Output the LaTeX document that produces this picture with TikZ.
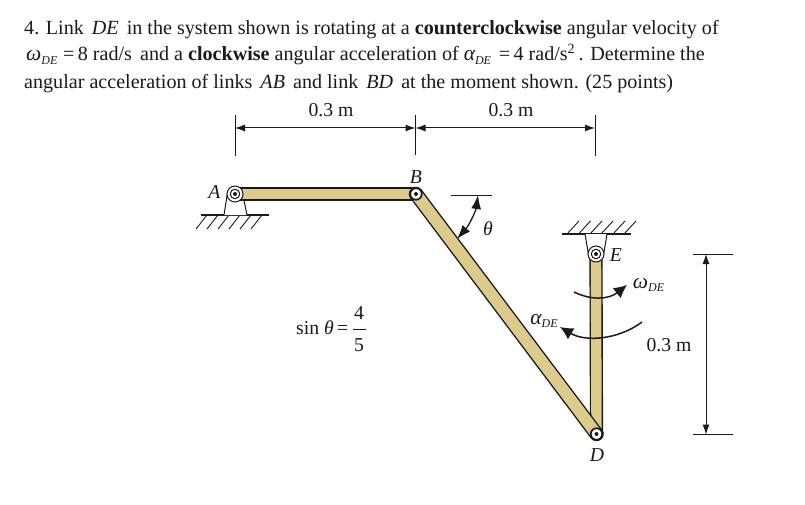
\documentclass[tikz,border=0pt]{standalone}
\usepackage{fontspec}
\setmainfont{Liberation Serif}
\usetikzlibrary{arrows.meta}
\definecolor{linkfill}{HTML}{DCCB8A}
\definecolor{ink}{HTML}{1A1A1A}
\tikzset{
  txt/.style={anchor=base west,inner sep=0pt,font=\fontsize{20.1}{22}\selectfont,text=ink},
  lbl/.style={inner sep=0pt,font=\fontsize{19.7}{22}\selectfont,text=ink},
  ital/.style={lbl,font=\fontsize{19.7}{22}\selectfont\itshape},
  link/.style={line width=13.2pt,draw=ink,line cap=round},
  linkin/.style={line width=10.4pt,draw=linkfill,line cap=round},
  pinbig/.style={circle,draw=ink,fill=white,line width=1pt,minimum size=16pt,inner sep=0pt},
  pinouter/.style={circle,draw=ink,fill=white,line width=1pt,minimum size=9.5pt,inner sep=0pt},
  pinsmall/.style={circle,draw=ink,fill=white,line width=1.7pt,minimum size=11.5pt,inner sep=0pt},
  dim/.style={draw=ink,line width=1pt},
  dimarrow/.style={draw=ink,line width=1pt,{Latex[length=10pt,width=7pt]}-{Latex[length=10pt,width=7pt]}},
  motion/.style={draw=ink,line width=1.5pt,-{Latex[length=13pt,width=13pt]}},
  ground/.style={draw=ink,line width=1.3pt},
  hatch/.style={draw=ink,line width=.9pt},
  bracket/.style={draw=ink,line width=1pt,fill=white}
}
\newcommand{\sub}[1]{\raisebox{-3.5pt}{\fontsize{12}{13}\selectfont\itshape #1}}
\newcommand{\gr}[1]{{\fontsize{21.5}{22}\selectfont\itshape #1}}
\begin{document}
\begin{tikzpicture}[x=1pt,y=-1pt]
\useasboundingbox (0,0) rectangle (805,505);
\fill[white] (0,0) rectangle (805,505);
% text
\node[txt] (l1) at (24,35) {4. Link\hspace{.4em}\textit{DE}\hspace{.4em}in the system shown is rotating at a \textbf{counterclockwise} angular velocity of};
\node[txt] (l2) at (26,61) {\gr{ω}\sub{DE}\hspace{2.5pt}\,=\,8 rad/s\hspace{.4em}and a \textbf{clockwise} angular acceleration of \gr{α}\sub{DE}\hspace{4.5pt}\,=\,4 rad/s\textsuperscript{2}\,. Determine the};
\node[txt] (l3) at (24,89) {angular acceleration of links\hspace{.4em}\textit{AB}\hspace{.4em}and link\hspace{.4em}\textit{BD}\hspace{.4em}at the moment shown. (25 points)};
\node[lbl] (d1) at (331,110.5) {0.3 m};
\node[lbl] (d2) at (511,110.5) {0.3 m};
\node[lbl] (d3) at (669,345) {0.3 m};
% coordinates
\coordinate (A) at (235,194);
\coordinate (B) at (416,194);
\coordinate (D) at (596.5,434);
\coordinate (E) at (596,254);
% top dimension
\coordinate (t1a) at (235,115); \coordinate (t1b) at (235,156);
\coordinate (t2a) at (415.5,115); \coordinate (t2b) at (415.5,155);
\coordinate (t3a) at (595,115); \coordinate (t3b) at (595,156);
\draw[dim] (t1a)--(t1b); \draw[dim] (t2a)--(t2b); \draw[dim] (t3a)--(t3b);
\coordinate (m1) at (235,128); \coordinate (m2) at (415.5,128); \coordinate (m3) at (595,128);
\draw[dimarrow] (m1)--(m2);
\draw[dimarrow] (m2)--(m3);
% right dimension
\coordinate (r1a) at (693,254); \coordinate (r1b) at (733,254);
\coordinate (r2a) at (693,434.5); \coordinate (r2b) at (733,434.5);
\coordinate (r1) at (706,254); \coordinate (r2) at (706,434.5);
\draw[dim] (r1a)--(r1b); \draw[dim] (r2a)--(r2b);
\draw[dimarrow] (r1)--(r2);
% grounds
\coordinate (ga1) at (201,215); \coordinate (ga2) at (269,215);
\draw[ground] (ga1)--(ga2);
\foreach \x in {207,218,229,240,251,262}
  \draw[hatch] (\x,215)--(\x-11,229);
\coordinate (ge1) at (562,234); \coordinate (ge2) at (631,234);
\draw[ground] (ge1)--(ge2);
\foreach \x in {567,578.5,590,601,613,624}
  \draw[hatch] (\x,234)--(\x+12,221);
% supports
\draw[bracket] (224,215)--(227.5,193)--(242.5,193)--(247,215);
\draw[bracket] (585,234)--(588.5,255)--(603.5,255)--(607,234);
% links
\draw[link] (A)--(B);
\draw[linkin] (A)--(B);
\draw[link] (E)--(D);
\draw[linkin] (E)--(D);
\draw[link,line width=14.4pt] (B)--(D);
\draw[linkin,line width=11.6pt] (B)--(D);
% pins
\node[pinbig] (pA) at (A) {};
\node[pinouter] (pAi) at (A) {}; \fill[ink] (A) circle (2pt);
\node[pinbig] (pE) at (E) {};
\node[pinouter] (pEi) at (E) {}; \fill[ink] (E) circle (2pt);
\node[pinsmall] (pB) at (B) {}; \fill[ink] (B) circle (2pt);
\node[pinsmall] (pD) at (D) {}; \fill[ink] (D) circle (2pt);
% labels
\node[ital] (lA) at (214.5,192) {A};
\node[ital] (lB) at (416,177) {B};
\node[ital] (lE) at (616,255) {E};
\node[ital] (lD) at (597,455) {D};
\node[lbl] (lw) at (648.5,285) {\gr{ω}\sub{DE}};
\node[lbl] (la) at (544,321) {\gr{α}\sub{DE}};
% motion arrows
\coordinate (w0) at (574,292); \coordinate (w1) at (627,285);
\draw[motion] (w0) .. controls (590,300) and (608,300) .. (w1);
\coordinate (a0) at (642,322); \coordinate (a1) at (560,327);
\draw[motion] (a0) .. controls (618,340) and (585,342) .. (a1);
% theta
\coordinate (th0) at (451,195); \coordinate (th1) at (492,195);
\draw[dim] (th0)--(th1);
\coordinate (tA) at (478,195); \coordinate (tB) at (457,239);
\draw[draw=ink,line width=1.3pt,{Latex[length=14pt,width=10pt]}-{Latex[length=14pt,width=10pt]}] (tA) .. controls (476,210) and (470,224) .. (tB);
\node[ital] (lth) at (488,229) {θ};
% sin
\node[lbl,anchor=base west] (s) at (296,334) {sin \textit{θ}\,=};
\node[lbl] (n4) at (359,313) {4};
\node[lbl] (n5) at (359,345) {5};
\coordinate (f1) at (353,329); \coordinate (f2) at (366,329);
\draw[draw=ink,line width=1pt] (f1)--(f2);
\end{tikzpicture}
\end{document}
